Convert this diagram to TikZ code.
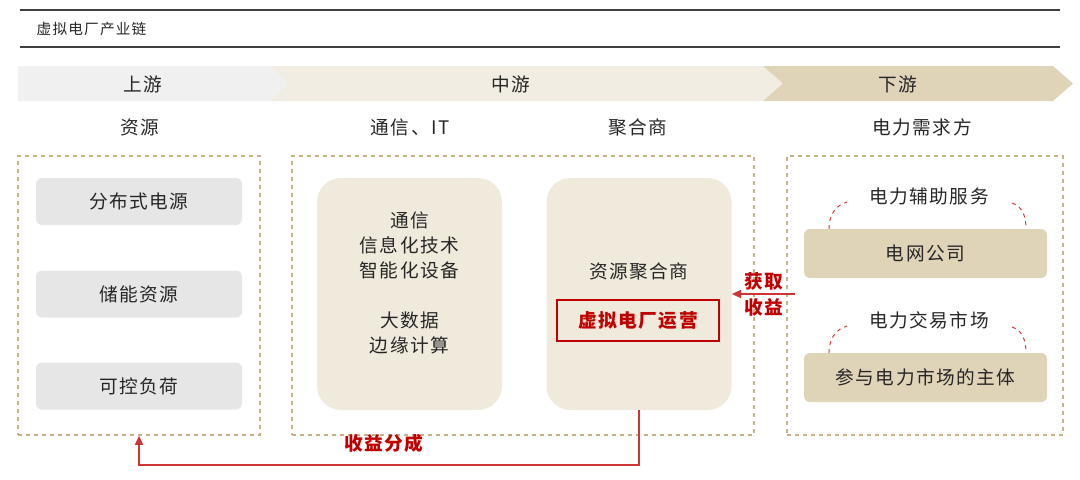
\documentclass[tikz,border=0pt]{standalone}
\usepackage{fontspec}
\setmainfont{Noto Sans CJK SC}[LetterSpace=8]
\usepackage{tikz}
\usetikzlibrary{arrows.meta}

\begin{document}
\begin{tikzpicture}[x=0.75pt, y=-0.75pt,
        lbl/.style={text=black!85, font=\fontsize{14}{18.75}\selectfont},
        redlbl/.style={text=vpred, font=\fontsize{14}{19.5}\selectfont\bfseries},
        grouparea/.style={draw=dashtan, dashed, line width=0.9pt, minimum height=209.25pt},
        srcbox/.style={lbl, fill=srcgray, rounded corners=4.5pt, minimum width=154.5pt, minimum height=35.25pt},
        midbox/.style={fill=midbeige, rounded corners=18pt, minimum width=138.75pt, minimum height=174pt},
        userbox/.style={lbl, fill=usertan, rounded corners=4.5pt, minimum width=182.25pt, minimum height=36.75pt},
        flow/.style={draw=arrred, line width=1.1pt, -{Triangle[length=7pt, width=6pt]}},
        link/.style={draw=arrred, dashed, line width=0.7pt}]
        \definecolor{vpred}{HTML}{C00000}
        \definecolor{arrred}{HTML}{D03434}
        \definecolor{dashtan}{HTML}{C9B386}
        \definecolor{srcgray}{HTML}{E6E6E6}
        \definecolor{midbeige}{HTML}{F0EADD}
        \definecolor{usertan}{HTML}{E0D4B8}

        \useasboundingbox (0,0) rectangle (1080,479);

        % title
        \draw[line width=1.5pt, black!75] (20,10) -- (1060,10);
        \draw[line width=1.5pt, black!75] (20,47) -- (1060,47);
        \node[anchor=west, text=black!85, font=\fontsize{11}{13}\selectfont] (title) at (32,29) {虚拟电厂产业链};

        % chevrons
        \fill[black!6] (18,66) -- (270,66) -- (288,83.5) -- (270,101) -- (18,101) -- cycle;
        \fill[midbeige!85] (270,66) -- (763,66) -- (783,83.5) -- (763,101) -- (270,101) -- (288,83.5) -- cycle;
        \fill[usertan] (763,66) -- (1053,66) -- (1073,83.5) -- (1053,101) -- (763,101) -- (783,83.5) -- cycle;
        \node[lbl] (up) at (143,84) {上游};
        \node[lbl] (mid) at (511,84) {中游};
        \node[lbl] (down) at (898,84) {下游};

        \node[lbl] (res) at (140,127) {资源};
        \node[lbl] (comm) at (410,127) {通信、IT};
        \node[lbl] (aggr) at (638,127) {聚合商};
        \node[lbl] (demand) at (922,127) {电力需求方};

        % dashed groups
        \node[grouparea, minimum width=181.5pt] (srcarea) at (139,295.5) {};
        \node[grouparea, minimum width=346.5pt] (midarea) at (523,295.5) {};
        \node[grouparea, minimum width=207pt] (userarea) at (925,295.5) {};

        % upstream
        \node[srcbox] (dist) at (139,201.5) {分布式电源};
        \node[srcbox] (store) at (139,294) {储能资源};
        \node[srcbox] (load) at (139,386) {可控负荷};

        % midstream
        \node[midbox] (ict) at (409.5,294) {};
        \node[lbl, align=center] (icttxt) at (409.5,282.5) {通信\\信息化技术\\智能化设备\\[18.75pt]大数据\\边缘计算};
        \node[midbox] (agg) at (639,294) {};
        \node[lbl] (aggtxt) at (639,271) {资源聚合商};
        \node[redlbl, draw=vpred, line width=2.2pt, minimum width=121.5pt, minimum height=30.75pt] (vpp) at (638,320.5) {虚拟电厂运营};

        % downstream
        \node[lbl] (aux) at (929,196) {电力辅助服务};
        \node[userbox] (grid) at (925.5,253.5) {电网公司};
        \node[lbl] (market) at (929,320) {电力交易市场};
        \node[userbox] (player) at (925.5,377.5) {参与电力市场的主体};

        \draw[link] (829,229) .. controls (829,213) and (837,205) .. (847,202);
        \draw[link] (1012,203) .. controls (1021,206) and (1026,214) .. (1026,229);
        \draw[link] (829,353) .. controls (829,337) and (837,329) .. (847,326);
        \draw[link] (1012,327) .. controls (1021,330) and (1026,338) .. (1026,353);

        % revenue flows
        \coordinate (gain) at (795,294);
        \draw[flow] (gain) -- (agg.east |- gain);
        \node[redlbl, align=center] (gainlbl) at (764,294) {获取\\收益};

        \coordinate (low) at (0,465);
        \draw[flow] (agg.south) -- (agg.south |- low) -| (srcarea.south);
        \node[redlbl] (share) at (384,443) {收益分成};
    \end{tikzpicture}
\end{document}
